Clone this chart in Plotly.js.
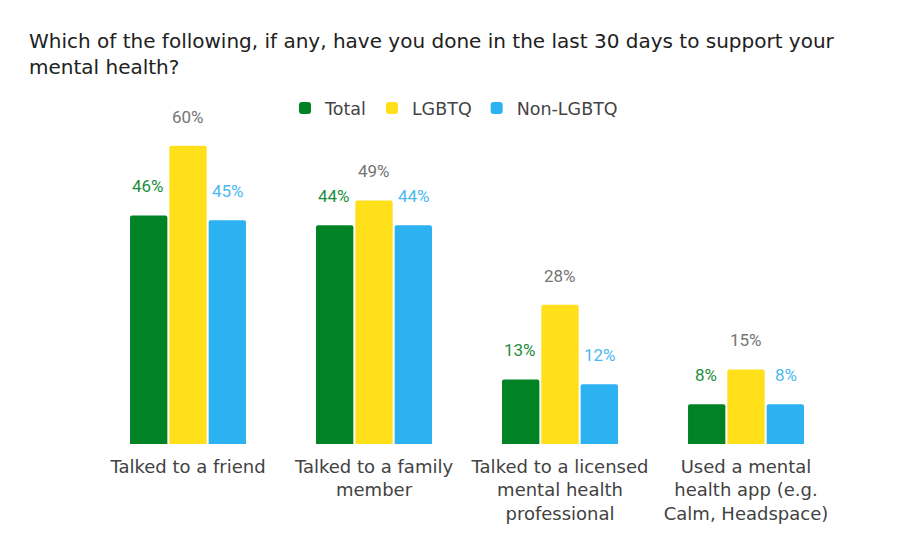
<!DOCTYPE html>
<html>
<head>
<meta charset="utf-8">
<script src="https://cdn.plot.ly/plotly-3.0.1.min.js"></script>
<style>html,body{margin:0;padding:0;background:#fff;}#chart{width:899px;height:550px;}</style>
</head>
<body>
<div id="chart"></div>
<script>
const categories = ["Talked to a friend", "Talked to a family<br>member", "Talked to a licensed<br>mental health<br>professional", "Used a mental<br>health app (e.g.<br>Calm, Headspace)"];
const seriesNames = ["Total", "LGBTQ", "Non-LGBTQ"];
const totalValues = [46, 44, 13, 8];
const lgbtqValues = [60, 49, 28, 15];
const nonLgbtqValues = [45, 44, 12, 8];
const barColors = ["#008225", "#FFE01B", "#2DB2F1"];
const labelColors = ["#1E8E3E", "#757575", "#4BB9F0"];

const FONT = "'DejaVu Sans', Verdana, sans-serif";

const allValues = [totalValues, lgbtqValues, nonLgbtqValues];
const traces = allValues.map((vals, i) => ({
  type: "bar",
  name: seriesNames[i],
  x: categories,
  y: vals,
  marker: {color: barColors[i], cornerradius: 2},
  hoverinfo: "none"
}));

const offsets = [-0.215, 0, 0.215];
const annotations = [];
allValues.forEach((vals, i) => {
  vals.forEach((v, j) => {
    annotations.push({
      x: j + offsets[i], y: v, xref: "x", yref: "y",
      text: v + "%", showarrow: false,
      yanchor: "bottom", yshift: 17,
      font: {family: "Roboto", size: 17, color: labelColors[i]}
    });
  });
});

const layout = {
  width: 899, height: 550,
  paper_bgcolor: "#fff", plot_bgcolor: "#fff",
  font: {family: FONT},
  margin: {l: 95, r: 60, t: 116, b: 106, autoexpand: false},
  title: {
    text: "Which of the following, if any, have you done in the last 30 days to support your<br>mental health?",
    x: 29/899, xref: "container", xanchor: "left",
    y: 1 - 48/550, yref: "container", yanchor: "top",
    font: {family: FONT, size: 20, color: "#212121"}
  },
  barmode: "group",
  bargap: 0.366,
  bargroupgap: 0.05,
  showlegend: true,
  legend: {
    orientation: "h",
    x: 454/899, xref: "container", xanchor: "center",
    y: 1 - 108/550, yref: "container", yanchor: "middle",
    font: {family: FONT, size: 17.5, color: "#444"},
    traceorder: "normal"
  },
  xaxis: {
    type: "category",
    range: [-0.5, 3.5],
    automargin: false,
    showgrid: false, zeroline: false, showline: false, ticks: "",
    ticklabelstandoff: 10,
    tickfont: {family: FONT, size: 18, color: "#424242"}
  },
  yaxis: {
    range: [0, 66],
    automargin: false,
    visible: false, showgrid: false, zeroline: false
  },
  annotations: annotations
};

Plotly.newPlot("chart", traces, layout, {displayModeBar: false, staticPlot: true});
</script>
</body>
</html>
